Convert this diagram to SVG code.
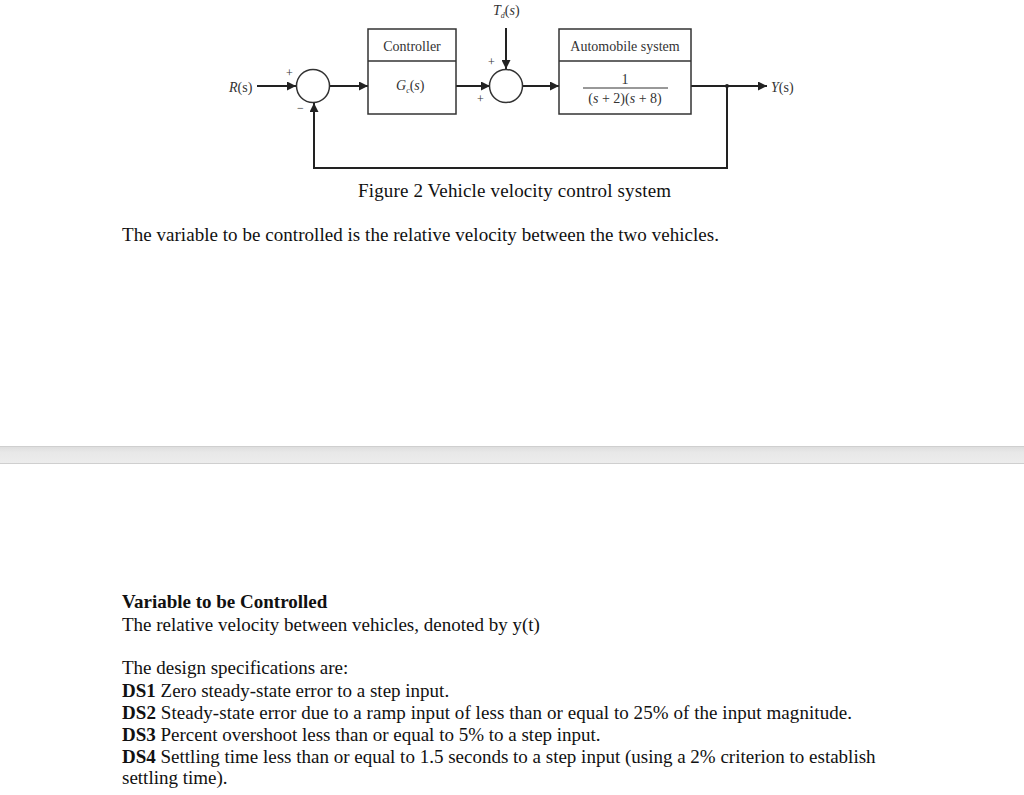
<svg xmlns="http://www.w3.org/2000/svg" width="1024" height="795" viewBox="0 0 1024 795">
<defs>
<marker id="ah" viewBox="0 0 10 10" refX="10" refY="5" markerWidth="10" markerHeight="9" markerUnits="userSpaceOnUse" orient="auto"><path d="M0,0 L10,5 L0,10 z" fill="#222"/></marker>
<linearGradient id="band" x1="0" y1="0" x2="0" y2="1"><stop offset="0" stop-color="#dcdcdc"/><stop offset="0.35" stop-color="#e8e8e8"/><stop offset="1" stop-color="#ededed"/></linearGradient>
</defs>
<style>
.box{fill:#fff;stroke:#333;stroke-width:1.5}
.sum{fill:#fff;stroke:#333;stroke-width:1.5}
.ln{fill:none;stroke:#222;stroke-width:2}
.dt{font-family:"Liberation Serif",serif;font-size:14px;fill:#333}
.di{font-family:"Liberation Serif",serif;font-size:14px;font-style:italic;fill:#333}
.sub{font-size:8px}
.sg{font-family:"Liberation Serif",serif;font-size:12px;fill:#333}
.tx{font-family:"Liberation Serif",serif;font-size:19px;fill:#111}
.b{font-weight:bold}
</style>
<rect width="1024" height="795" fill="#fff"/>
<g id="connectors">
<line class="ln" x1="257" y1="86" x2="296" y2="86" marker-end="url(#ah)"/>
<line class="ln" x1="330" y1="86" x2="368" y2="86" marker-end="url(#ah)"/>
<line class="ln" x1="456" y1="86" x2="490" y2="86" marker-end="url(#ah)"/>
<line class="ln" x1="506" y1="28" x2="506" y2="69" marker-end="url(#ah)"/>
<line class="ln" x1="522" y1="86" x2="559" y2="86" marker-end="url(#ah)"/>
<line class="ln" x1="691" y1="86" x2="767" y2="86" marker-end="url(#ah)"/>
<polyline class="ln" points="727,86 727,168 314,168 314,103" marker-end="url(#ah)"/>
<circle cx="727" cy="86" r="2" fill="#222"/>
</g>
<g id="R">
<text class="dt" x="229" y="92"><tspan font-style="italic">R</tspan>(s)</text>
</g>
<g id="sum1">
<circle class="sum" cx="313" cy="86" r="16.5"/>
<text class="sg" x="286" y="77">+</text>
<text class="sg" x="297" y="112">−</text>
</g>
<g id="controller">
<rect class="box" x="368" y="29" width="88" height="85"/>
<line x1="368" y1="61" x2="456" y2="61" stroke="#333" stroke-width="1.5"/>
<text class="dt" x="412" y="51" text-anchor="middle">Controller</text>
<text class="di" x="396" y="90">G<tspan class="sub" dy="3">c</tspan><tspan dy="-3" font-style="normal">(</tspan>s<tspan font-style="normal">)</tspan></text>
</g>
<g id="Td">
<text class="di" x="493" y="15">T<tspan class="sub" dy="3">d</tspan><tspan dy="-3" font-style="normal">(</tspan>s<tspan font-style="normal">)</tspan></text>
</g>
<g id="sum2">
<circle class="sum" cx="506" cy="86" r="16.5"/>
<text class="sg" x="488" y="66">+</text>
<text class="sg" x="477" y="103">+</text>
</g>
<g id="automobile">
<rect class="box" x="559" y="29" width="132" height="85"/>
<line x1="559" y1="61" x2="691" y2="61" stroke="#333" stroke-width="1.5"/>
<text class="dt" x="625" y="51" text-anchor="middle">Automobile system</text>
<text class="dt" x="625" y="84" text-anchor="middle">1</text>
<line x1="583" y1="88" x2="668" y2="88" stroke="#333" stroke-width="1"/>
<text class="dt" x="625" y="103" text-anchor="middle">(<tspan font-style="italic">s</tspan> + 2)(<tspan font-style="italic">s</tspan> + 8)</text>
</g>
<g id="Y">
<text class="dt" x="771" y="92"><tspan font-style="italic">Y</tspan>(s)</text>
</g>
<text class="tx" x="358" y="197" textLength="313">Figure 2 Vehicle velocity control system</text>
<text class="tx" x="122" y="241" textLength="597">The variable to be controlled is the relative velocity between the two vehicles.</text>
<rect x="0" y="446" width="1024" height="18" fill="url(#band)"/>
<line x1="0" y1="446.5" x2="1024" y2="446.5" stroke="#cfcfcf"/>
<line x1="0" y1="463.5" x2="1024" y2="463.5" stroke="#cfcfcf"/>
<text class="tx b" x="122" y="608">Variable to be Controlled</text>
<text class="tx" x="122" y="631">The relative velocity between vehicles, denoted by y(t)</text>
<text class="tx" x="122" y="674">The design specifications are:</text>
<text class="tx" x="122" y="697"><tspan class="b">DS1</tspan> Zero steady-state error to a step input.</text>
<text class="tx" x="122" y="719" textLength="730"><tspan class="b">DS2</tspan> Steady-state error due to a ramp input of less than or equal to 25% of the input magnitude.</text>
<text class="tx" x="122" y="741"><tspan class="b">DS3</tspan> Percent overshoot less than or equal to 5% to a step input.</text>
<text class="tx" x="122" y="763"><tspan class="b">DS4</tspan> Settling time less than or equal to 1.5 seconds to a step input (using a 2% criterion to establish</text>
<text class="tx" x="122" y="784">settling time).</text>
</svg>
